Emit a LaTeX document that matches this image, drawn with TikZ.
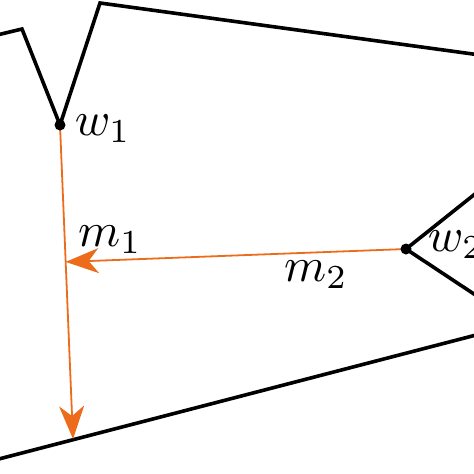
\documentclass[tikz,border=0pt]{standalone}
\usetikzlibrary{arrows.meta,calc}
\definecolor{arrorange}{RGB}{236,108,28}
\tikzset{
  wall/.style={line width=3.6pt, black, line join=miter},
  ray/.style={line width=1.8pt, arrorange, -{Stealth[length=33pt,width=25pt,inset=10pt]}},
  pt/.style={circle, fill=black, inner sep=0pt, minimum size=11pt},
  lab/.style={scale=4.8, inner sep=0pt}
}
\begin{document}
\begin{tikzpicture}[x=1pt,y=-1pt]
\useasboundingbox (0,0) rectangle (474,474);
% walls
\coordinate (p0) at (-5,35.5);
\coordinate (p1) at (22,29);
\coordinate (w1) at (60,125);
\coordinate (p2) at (100,3);
\coordinate (p3) at (480,55);
\coordinate (w2) at (406,249);
\coordinate (q1) at (480,190);
\coordinate (q2) at (480,298);
\coordinate (r0) at (-5,460);
\coordinate (r1) at (480,334);
\draw[wall] (p0) -- (p1) -- (w1) -- (p2) -- (p3);
\draw[wall] (q1) -- (w2) -- (q2);
\draw[wall] (r0) -- (r1);
% rays
\coordinate (b) at (73,439);
\coordinate (h) at ($(w1)!0.436!(b)$);
\draw[ray] (w1) -- (b);
\draw[ray] (w2) -- (h);
% points
\node[pt] (n1) at (w1) {};
\node[pt] (n2) at (w2) {};
% labels
\node[lab, anchor=west] (l1) at (74,129) {$w_1$};
\node[lab, anchor=west] (l2) at (427,245) {$w_2$};
\node[lab] (lm1) at (110,240) {$m_1$};
\node[lab] (lm2) at (316,275) {$m_2$};
\end{tikzpicture}
\end{document}
